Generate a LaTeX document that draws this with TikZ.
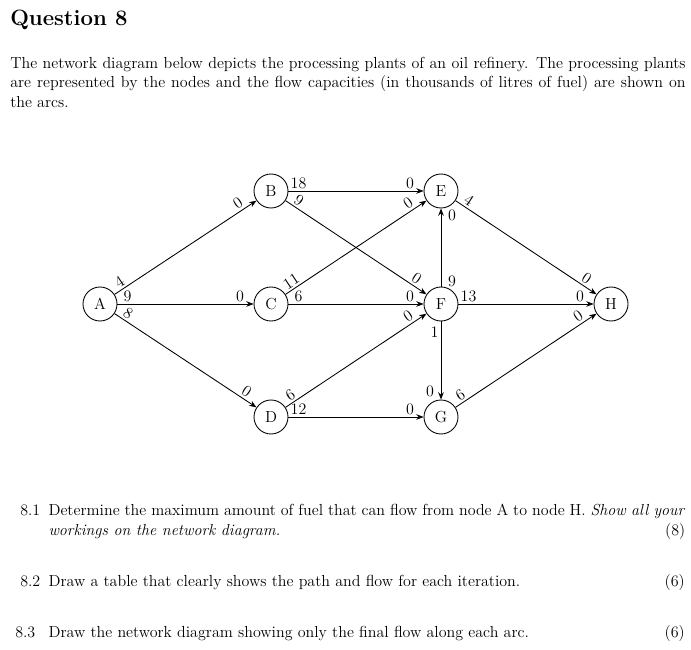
\documentclass[tikz,border=0pt]{standalone}
\usetikzlibrary{arrows.meta}
\begin{document}
\begin{tikzpicture}[x=0.75pt,y=-0.75pt,
  font=\fontsize{12}{14.5}\selectfont,
  plant/.style={circle,draw,line width=0.65pt,minimum size=25.5pt,inner sep=0pt},
  arc/.style={line width=0.65pt,-{Stealth[length=5.5pt,width=4.2pt,inset=1.8pt]}},
  lab/.style={inner sep=1.5pt},
  lstart/.style={lab,sloped,above,pos=0.075},
  lstartd/.style={lab,sloped,above,pos=0.065},
  lend/.style={lab,sloped,above,pos=0.9},
  txt/.style={inner sep=0pt,anchor=base west},
  pts/.style={inner sep=0pt,anchor=base east}]
\path[use as bounding box] (0,0) rectangle (691,649);

% heading and paragraph
\node[txt,font=\fontsize{16.6}{20}\selectfont\bfseries] (title) at (10,25.5) {Question 8};
\node[txt,text width=506.5pt,align=justify] (intro) at (10,68.5)
 {The network diagram below depicts the processing plants of an oil refinery. The processing plants\linebreak
  are represented by the nodes and the flow capacities (in thousands of litres of fuel) are shown on\linebreak
  the arcs.};

% network
\node[plant] (A) at (100,304) {A};
\node[plant] (B) at (271,191) {B};
\node[plant] (C) at (271,304) {C};
\node[plant] (D) at (271,417) {D};
\node[plant] (E) at (441,191) {E};
\node[plant] (F) at (441,304) {F};
\node[plant] (G) at (441,417) {G};
\node[plant] (H) at (611,304) {H};

\draw[arc] (A) -- node[lstartd]{4} node[lend]{0} (B);
\draw[arc] (A) -- node[lstart]{9} node[lend]{0} (C);
\draw[arc] (A) -- node[lstartd]{8} node[lend]{0} (D);
\draw[arc] (B) -- node[lstart]{18} node[lend]{0} (E);
\draw[arc] (B) -- node[lstartd]{9} node[lend]{0} (F);
\draw[arc] (C) -- node[lstartd,pos=0.07]{11} node[lend]{0} (E);
\draw[arc] (C) -- node[lstart]{6} node[lend]{0} (F);
\draw[arc] (D) -- node[lstartd]{6} node[lend]{0} (F);
\draw[arc] (D) -- node[lstart]{12} node[lend]{0} (G);
\draw[arc] (F) -- node[lab,pos=0.07,right=3.5pt]{9} node[lab,pos=0.91,right=3.5pt]{0} (E);
\draw[arc] (F) -- node[lab,pos=0.135,left]{1} node[lab,pos=0.895,left=3.5pt]{0} (G);
\draw[arc] (E) -- node[lstartd]{4} node[lend]{0} (H);
\draw[arc] (F) -- node[lstart]{13} node[lend]{0} (H);
\draw[arc] (G) -- node[lstartd]{6} node[lend]{0} (H);

% questions
\node[txt] (q1n) at (20,515.7) {8.1};
\node[txt,text width=477.5pt,align=justify] (q1) at (48.3,515.7)
 {Determine the maximum amount of fuel that can flow from node A to node H. \textit{Show all your}\linebreak
  \textit{workings on the network diagram.}\hfill(8)};
\node[txt] (q2n) at (20,586.7) {8.2};
\node[txt] (q2) at (48.3,586.7) {Draw a table that clearly shows the path and flow for each iteration.};
\node[pts] (q2m) at (685,586.7) {(6)};
\node[txt] (q3n) at (15,637.7) {8.3};
\node[txt] (q3) at (48.3,637.7) {Draw the network diagram showing only the final flow along each arc.};
\node[pts] (q3m) at (685,637.7) {(6)};
\end{tikzpicture}
\end{document}
